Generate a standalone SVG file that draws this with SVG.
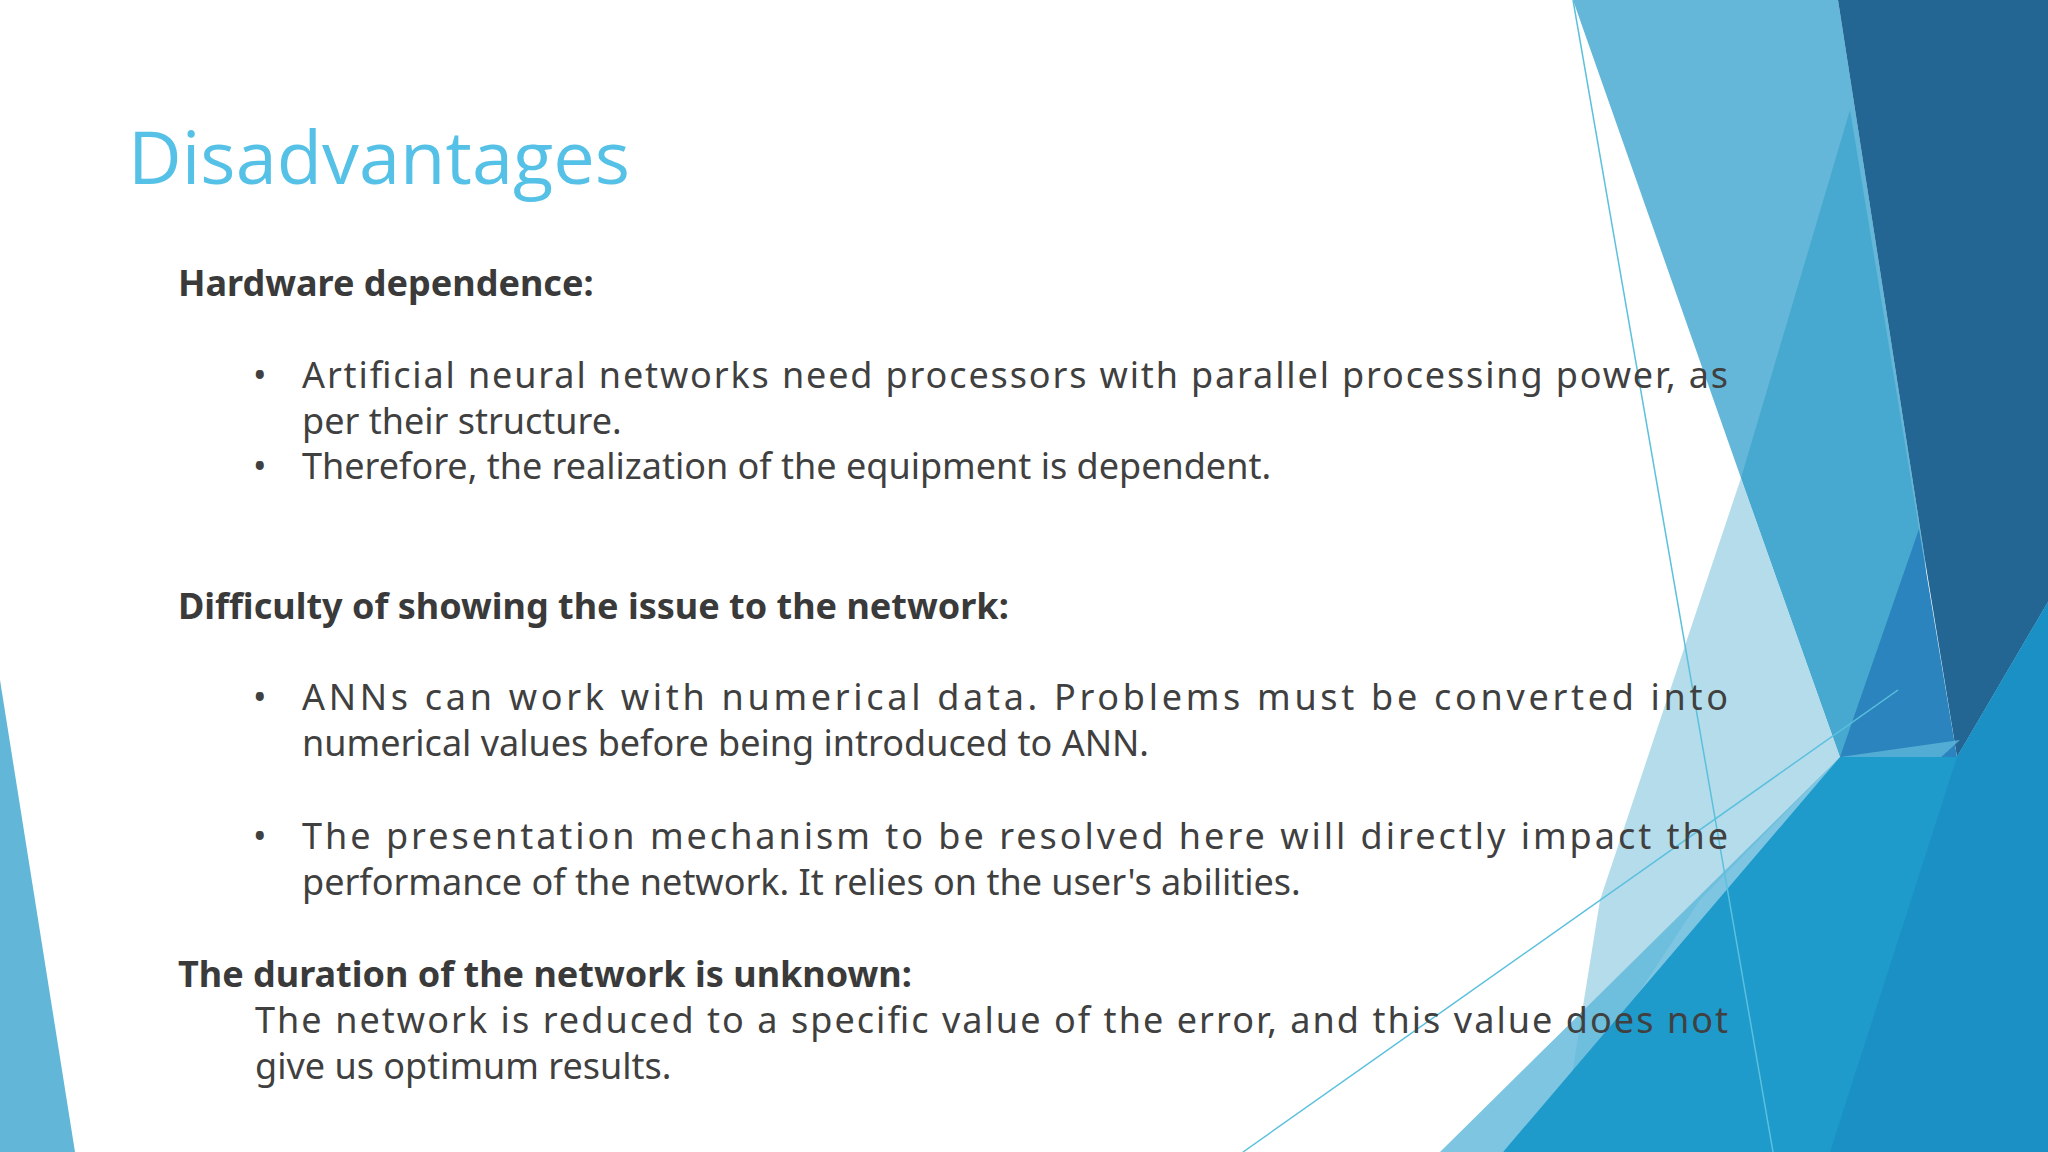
<svg xmlns="http://www.w3.org/2000/svg" width="2048" height="1152" viewBox="0 0 2048 1152">
<style>
.h{font-family:"Noto Sans","Open Sans",sans-serif;font-weight:bold;font-size:36px;fill:#3a3a3a}
.b{font-family:"Noto Sans","Open Sans",sans-serif;font-size:36px;fill:#404040}
</style>
<rect width="2048" height="1152" fill="#fff"/>
<g id="decor">
<polygon points="0,680 75,1152 0,1152" fill="#62b7d8"/>
<polygon points="1573,0 1838,0 1925,560 1935,700 1840,757 1741,478" fill="#64b7d8"/>
<polygon points="1850,110 1919,529 1935,700 1840,757 1741,478" fill="#47a9cf"/>
<polygon points="1838,0 2048,0 2048,602 1957,757 1925,560" fill="#236693"/>
<polygon points="1919,529 1957,757 1860,870 1840,757" fill="#2b84bd"/>
<polygon points="1741,478 1840,757 1700,900 1568,1100 1600,900" fill="#add8e8" opacity="0.9"/>
<polygon points="1840,757 1960,740 1503,1152 1440,1152" fill="#5db6d9" opacity="0.8"/>
<polygon points="2048,602 2048,1152 1503,1152 1840,757 1957,757" fill="#1e9acb"/>
<polygon points="2048,602 2048,1152 1830,1152 1957,757" fill="#1b90c5"/>
<line x1="1573" y1="0" x2="1773" y2="1152" stroke="#5bc0de" stroke-width="1.5"/>
<line x1="1243" y1="1152" x2="1898" y2="690" stroke="#5bc0de" stroke-width="1.5"/>
</g>
<text x="128" y="184" font-family="'Open Sans','Noto Sans',sans-serif" font-size="74" fill="#56c1e6">Disadvantages</text>
<g id="s1">
<text class="h" x="178" y="296">Hardware dependence:</text>
<text class="b" x="253" y="388">•</text>
<text class="b" x="302" y="388" textLength="1426" lengthAdjust="spacing">Artificial neural networks need processors with parallel processing power, as</text>
<text class="b" x="302" y="434">per their structure.</text>
<text class="b" x="253" y="479">•</text>
<text class="b" x="302" y="479">Therefore, the realization of the equipment is dependent.</text>
</g>
<g id="s2">
<text class="h" x="178" y="619">Difficulty of showing the issue to the network:</text>
<text class="b" x="253" y="710">•</text>
<text class="b" x="302" y="710" textLength="1426" lengthAdjust="spacing">ANNs can work with numerical data. Problems must be converted into</text>
<text class="b" x="302" y="756">numerical values before being introduced to ANN.</text>
<text class="b" x="253" y="849">•</text>
<text class="b" x="302" y="849" textLength="1426" lengthAdjust="spacing">The presentation mechanism to be resolved here will directly impact the</text>
<text class="b" x="302" y="895">performance of the network. It relies on the user's abilities.</text>
</g>
<g id="s3">
<text class="h" x="178" y="987">The duration of the network is unknown:</text>
<text class="b" x="255" y="1033" textLength="1473" lengthAdjust="spacing">The network is reduced to a specific value of the error, and this value does not</text>
<text class="b" x="255" y="1079">give us optimum results.</text>
</g>
</svg>
